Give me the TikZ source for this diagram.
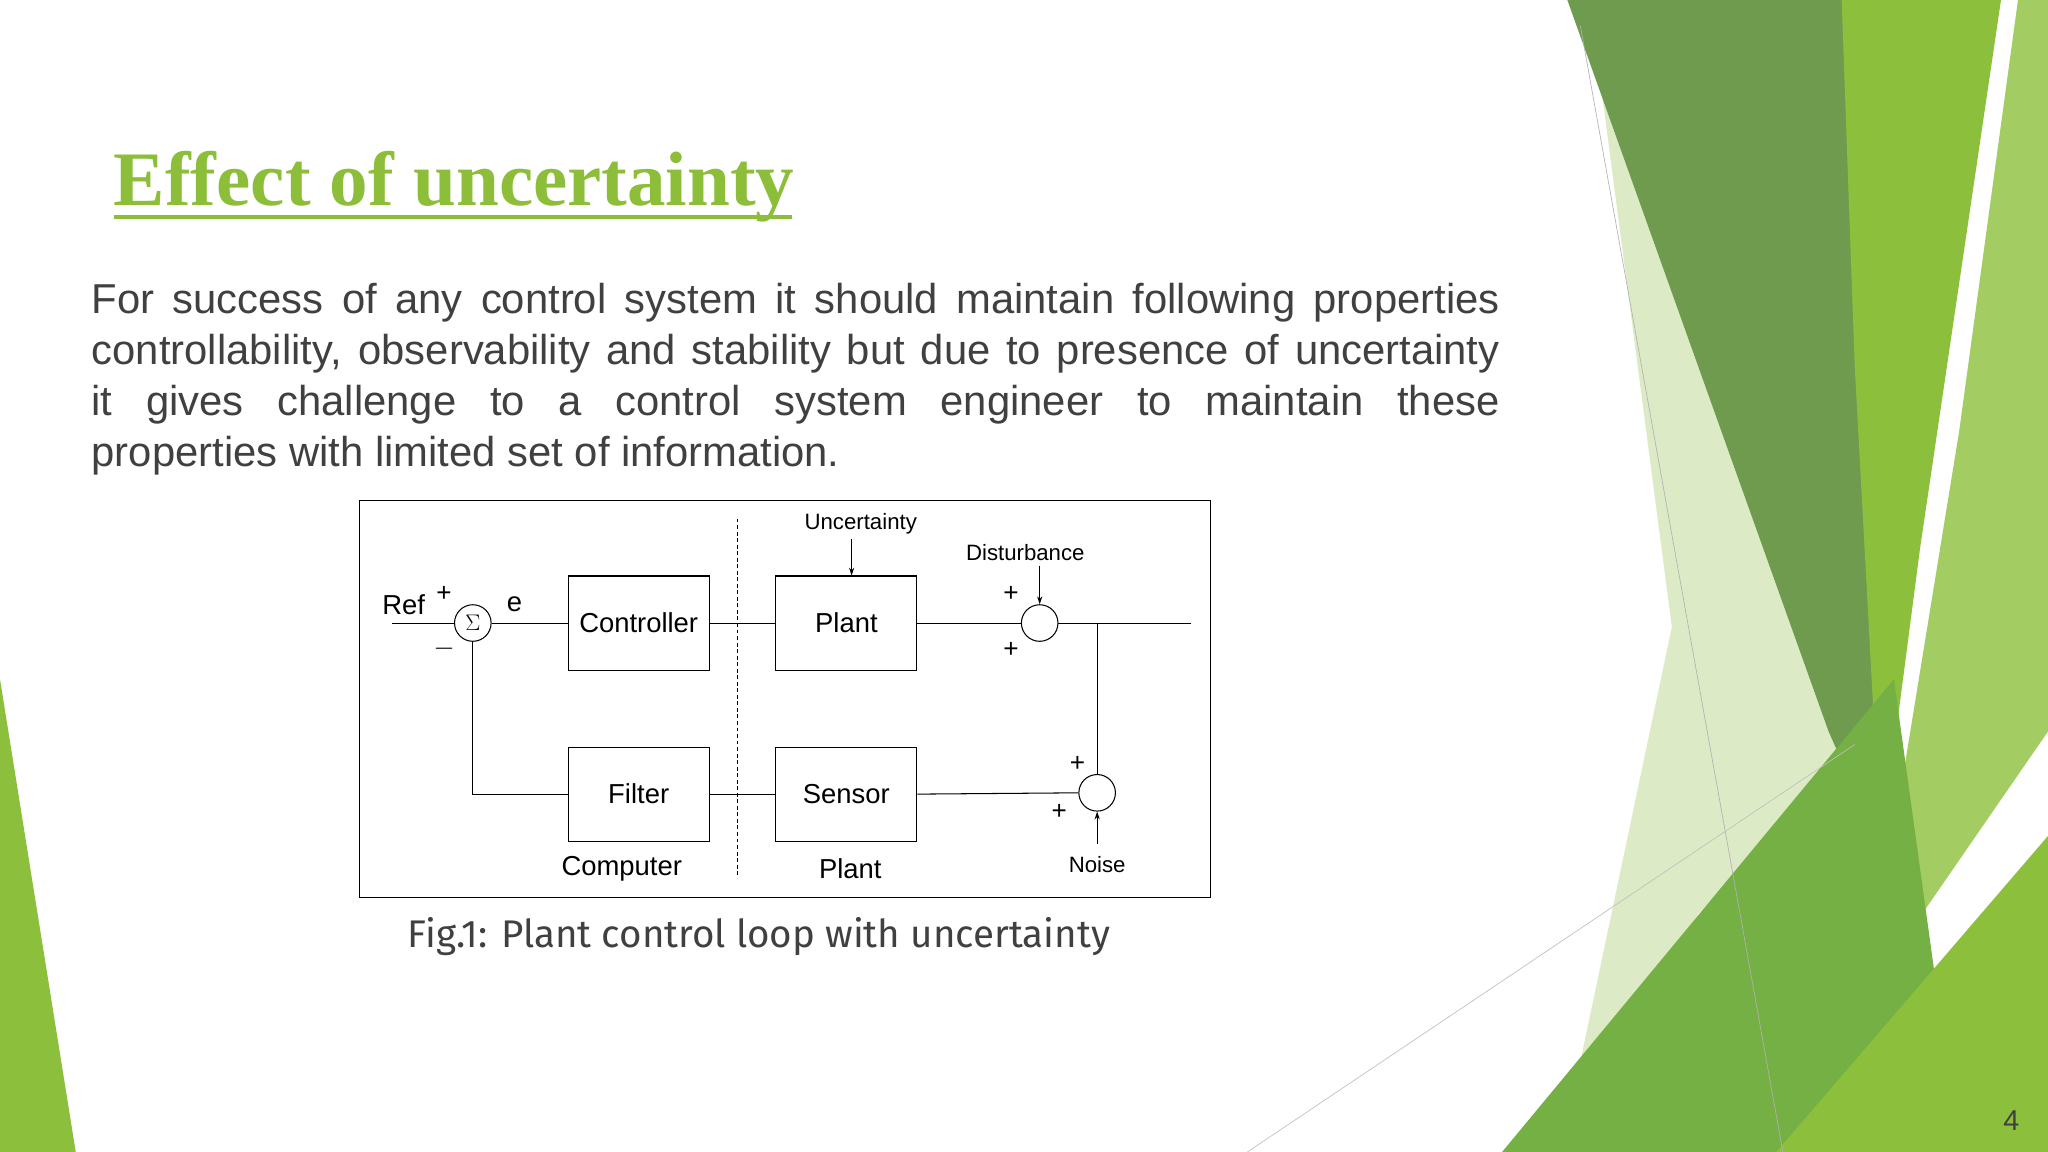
\documentclass[tikz,border=0pt]{standalone}
\usepackage{fontspec}
\setmainfont{Liberation Sans}[HyphenChar=None]
\newfontfamily\titlefont{Liberation Serif}
\newfontfamily\capfont{Fira Sans}
\usetikzlibrary{arrows.meta}
\definecolor{tgreen}{HTML}{8DBE3A}
\definecolor{dgreen}{HTML}{6E9B4E}
\definecolor{bgreen}{HTML}{8CC03C}
\definecolor{lgreen}{HTML}{DCEBC5}
\definecolor{mgreen}{HTML}{74B043}
\definecolor{txt}{HTML}{404040}
\tikzset{blk/.style={draw,line width=0.8pt,minimum width=108pt,minimum height=72pt,font=\fontsize{21}{22}\selectfont},
 sumc/.style={draw,circle,line width=0.8pt,minimum size=28pt,inner sep=0pt},
 ln/.style={line width=0.8pt},
 ar/.style={line width=0.8pt,-{Stealth[length=6pt,width=4pt]}},
 sm/.style={font=\fontsize{17}{19}\selectfont},
 pm/.style={font=\fontsize{20}{20}\selectfont}}
\begin{document}
\begin{tikzpicture}[x=1pt,y=-1pt]
\useasboundingbox (0,0) rectangle (1568,882);
\fill[white] (0,0) rectangle (1568,882);
% background shapes
\fill[lgreen] (1225,60) -- (1410,580) -- (1300,700) -- (1200,860) -- (1280,480) -- cycle;
\fill[dgreen] (1200,0) -- (1420,0) -- (1440,650) -- (1400,560) -- cycle;
\fill[bgreen] (1410,0) -- (1532,0) -- (1470,420) -- (1440,650) -- (1420,280) -- cycle;
\fill[bgreen!80!white] (1545,0) -- (1568,0) -- (1568,560) -- (1430,760) -- (1500,330) -- cycle;
\fill[mgreen] (1150,882) -- (1450,520) -- (1500,882) -- cycle;
\fill[bgreen] (1360,882) -- (1568,640) -- (1568,882) -- cycle;
\fill[bgreen] (0,520) -- (58,882) -- (0,882) -- cycle;
\draw[gray!60,line width=0.5pt] (1210,20) -- (1365,882);
\draw[gray!50,line width=0.5pt] (955,882) -- (1420,570);
% title
\node[anchor=base west,inner sep=0,text=tgreen,font=\titlefont\bfseries\fontsize{59}{62}\selectfont] (title) at (87,157) {Effect of uncertainty};
\draw[tgreen,line width=3pt] (87,166) -- (606,166);
% body
\node[anchor=north west,inner sep=0,text width=1078pt,align=justify,text=txt,font=\fontsize{32}{39}\selectfont] (body) at (70,217) {For success of any control system it should maintain following properties controllability, observability and stability but due to presence of uncertainty it gives challenge to a control system engineer to maintain these\linebreak properties with limited set of information.};
% diagram
\draw[line width=1pt] (275,383) rectangle (927,687);
\node[blk] (ctrl) at (489,477) {Controller};
\node[blk] (plant) at (648,477) {Plant};
\node[blk] (filt) at (489,608) {Filter};
\node[blk] (sens) at (648,608) {Sensor};
\node[sumc,font=\fontsize{16}{16}\selectfont] (s1) at (362,477) {$\Sigma$};
\node[sumc] (s2) at (796,477) {};
\node[sumc] (s3) at (840,607) {};
\draw[ln,densely dashed] (565,397) -- (565,672);
\coordinate (ref) at (300,477);
\coordinate (out) at (912,477);
\coordinate (br) at (840,477);
\coordinate (uncs) at (652,413);
\coordinate (dists) at (796,433);
\coordinate (noises) at (840,646);
\draw[ln] (ref) -- (s1);
\draw[ln] (s1) -- (ctrl);
\draw[ln] (ctrl) -- (plant);
\draw[ln] (plant) -- (s2);
\draw[ln] (s2) -- (out);
\draw[ln] (br) -- (s3);
\draw[ln] (s3.west) -- (sens.east);
\draw[ln] (sens) -- (filt);
\draw[ln] (filt.west) -| (s1.south);
\node[sm] (unc) at (659,401) {Uncertainty};
\draw[ar] (uncs) -- (uncs |- plant.north);
\node[sm] (dist) at (785,423) {Disturbance};
\draw[ar] (dists) -- (s2.north);
\node[sm] (noise) at (840,662) {Noise};
\draw[ar] (noises) -- (s3.south);
\node[font=\fontsize{21}{22}\selectfont] (reflab) at (309,463) {Ref};
\node[font=\fontsize{21}{22}\selectfont] (elab) at (394,463) {e};
\node[pm] at (340,455) {+};
\node[pm] at (340,497) {$-$};
\node[pm] at (774,455) {+};
\node[pm] at (774,498) {+};
\node[pm] at (825,585) {+};
\node[pm] at (811,622) {+};
\node[font=\fontsize{21}{22}\selectfont] (comp) at (476,665) {Computer};
\node[font=\fontsize{21}{22}\selectfont] (plab) at (651,665) {Plant};
\node[text=txt,font=\capfont\fontsize{29.5}{30}\selectfont] (cap) at (581,717) {Fig.1: Plant control loop with uncertainty};
\node[text=txt,font=\fontsize{22}{24}\selectfont] (pg) at (1540,858) {4};
\end{tikzpicture}
\end{document}
